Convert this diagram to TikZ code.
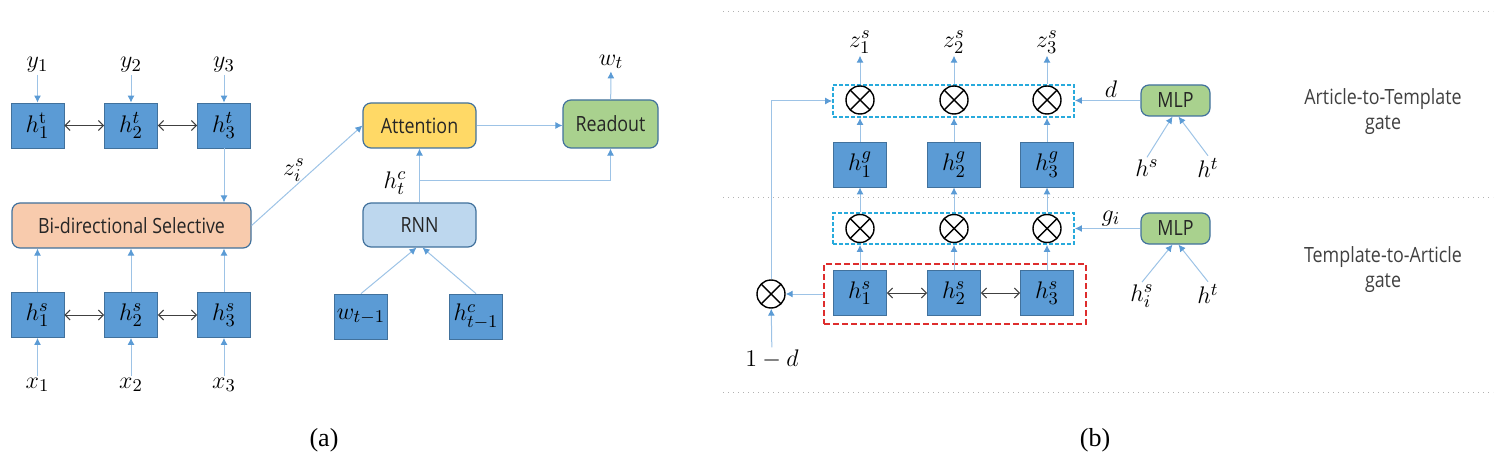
\documentclass[tikz,border=0pt]{standalone}
\usepackage{fontspec}
\newfontfamily\BoxFont[FakeStretch=0.85]{Open Sans}
\newfontfamily\CapFont{Liberation Serif}
\usetikzlibrary{arrows.meta,positioning}
\definecolor{BoxBlue}{HTML}{5B9BD5}
\definecolor{BoxEdge}{HTML}{41719C}
\definecolor{LinkBlue}{HTML}{9DC3E6}
\definecolor{TipBlue}{HTML}{5B9BD5}
\definecolor{Salmon}{HTML}{F8CBAD}
\definecolor{AttnYellow}{HTML}{FFD966}
\definecolor{LeafGreen}{HTML}{A9D18E}
\definecolor{RnnBlue}{HTML}{BDD7EE}
\definecolor{GateCyan}{RGB}{40,170,220}
\definecolor{SelRed}{RGB}{222,45,45}
\newcommand{\MathSize}{\fontsize{12.5}{14}\selectfont}
\newcommand{\TextSize}{\fontsize{10.5}{12.5}\selectfont}

\begin{document}
\begin{tikzpicture}[x=0.5pt,y=-0.5pt,>=Latex,
  hbox/.style={draw=BoxEdge,fill=BoxBlue,minimum width=26.5pt,minimum height=22.5pt,inner sep=0pt,font=\MathSize},
  rbox/.style={draw=BoxEdge,line width=0.6pt,rounded corners=4pt,inner sep=0pt,text=black!85,font=\BoxFont\TextSize},
  lbl/.style={font=\MathSize,inner sep=1pt},
  flow/.style={draw=LinkBlue,line width=0.5pt,-{Latex[length=3.5pt,width=3.5pt,color=TipBlue]}},
  pair/.style={draw=black!75,line width=0.5pt,{Straight Barb[length=2.5pt,width=5pt]}-{Straight Barb[length=2.5pt,width=5pt]}},
  gate/.style={draw=GateCyan,dash pattern=on 2pt off 1pt,line width=0.9pt,minimum width=120.5pt,minimum height=16pt,inner sep=0pt},
  prod/.style={circle,draw=black,line width=0.7pt,minimum size=14pt,inner sep=0pt,
    path picture={\draw[line width=0.7pt] (path picture bounding box.north west)--(path picture bounding box.south east)
      (path picture bounding box.north east)--(path picture bounding box.south west);}},
  sep/.style={draw=black!30,dotted,line width=0.5pt}]
\useasboundingbox (0,0) rectangle (1502,454);
% (a) selective encoder and decoder
\foreach \i/\xc in {1/37.5,2/131,3/224}{
  \node[lbl] (y\i) at (\xc,65) {$y_{\i}$};
  \node[lbl] (x\i) at (\xc,385) {$x_{\i}$};
  \node[hbox] (hs\i) at (\xc,315) {$h_{\i}^{s}$};
}
\node[hbox] (ht1) at (37.5,125.5) {$h_1^{\mathrm{t}}$};
\node[hbox] (ht2) at (131,125.5) {$h_2^t$};
\node[hbox] (ht3) at (224,125.5) {$h_3^t$};
\node[rbox,fill=Salmon,minimum width=119.5pt,minimum height=22.5pt] (bisel) at (131.5,225.5) {Bi-directional Selective};
\foreach \i in {1,2,3}{
  \draw[flow] (y\i) -- (ht\i);
  \draw[flow] (x\i) -- (hs\i);
  \draw[flow] (hs\i) -- (hs\i |- bisel.south);
}
\draw[pair] (ht1) -- (ht2);
\draw[pair] (ht2) -- (ht3);
\draw[pair] (hs1) -- (hs2);
\draw[pair] (hs2) -- (hs3);
\draw[flow] (ht3) -- (ht3 |- bisel.north);
\node[rbox,fill=AttnYellow,minimum width=56.5pt,minimum height=22.5pt] (attn) at (419.5,125.5) {Attention};
\node[rbox,fill=LeafGreen,minimum width=47.5pt,minimum height=24pt] (readout) at (610.5,124) {Readout};
\node[rbox,fill=RnnBlue,minimum width=56.5pt,minimum height=22pt] (rnn) at (419.5,225) {RNN};
\node[hbox] (wprev) at (361,316.5) {$w_{t-1}$};
\node[hbox] (hcprev) at (476,316.5) {$h_{t-1}^{c}$};
\node[lbl] (zi) at (294,170) {$z_i^s$};
\node[lbl] (hct) at (395,183) {$h_t^c$};
\node[lbl] (wt) at (611,62) {$w_t$};
\coordinate (junc) at (419.5,181);
\draw[flow] (bisel.east) -- (attn.west);
\draw[flow] (attn.east) -- (attn.east -| readout.west);
\draw[flow] (rnn) -- (attn);
\draw[flow] (junc) -| (readout.south);
\draw[flow] (readout) -- (wt);
\draw[flow] (wprev.north) -- ([xshift=-1.5pt]rnn.south);
\draw[flow] (hcprev.north) -- ([xshift=1.5pt]rnn.south);
\node[font=\CapFont\fontsize{13}{15}\selectfont] (capa) at (324,440) {(a)};
% (b) gates
\draw[sep] (723,12) -- (1493,12);
\draw[sep] (723,198) -- (1493,198);
\draw[sep] (723,392) -- (1493,392);
\node[gate] (gtop) at (953.5,101) {};
\node[gate,minimum height=15.5pt] (gbot) at (953.5,228.5) {};
\node[draw=SelRed,dash pattern=on 3pt off 1.5pt,line width=0.9pt,minimum width=131pt,minimum height=30pt,inner sep=0pt] (selbox) at (955,294) {};
\foreach \i/\xc in {1/860,2/954,3/1047}{
  \node[lbl] (z\i) at (\xc,42) {$z_{\i}^{s}$};
  \node[prod] (pa\i) at (\xc,100) {};
  \node[hbox] (hg\i) at (\xc,164.5) {$h_{\i}^{g}$};
  \node[prod] (pb\i) at (\xc,228.5) {};
  \node[hbox] (hb\i) at (\xc,293) {$h_{\i}^{s}$};
}
\foreach \i in {1,2,3}{
  \draw[flow] (pa\i |- gtop.north) -- (z\i);
  \draw[flow] (hg\i) -- (hg\i |- gtop.south);
  \draw[flow] (pb\i |- gbot.north) -- (hg\i);
  \draw[flow] (hb\i) -- (hb\i |- gbot.south);
}
\draw[pair] (hb1) -- (hb2);
\draw[pair] (hb2) -- (hb3);
\node[prod] (pl) at (771,294) {};
\node[lbl] (omd) at (772,359) {$1-d$};
\draw[flow] (selbox.west) -- (pl);
\draw[flow] (omd) -- (pl);
\draw[flow] (pl) |- (gtop.west);
\node[rbox,fill=LeafGreen,minimum width=34.5pt,minimum height=15.5pt] (mlpa) at (1175.5,100.5) {MLP};
\node[rbox,fill=LeafGreen,minimum width=34.5pt,minimum height=15.5pt] (mlpb) at (1175.5,228.5) {MLP};
\draw[flow] (mlpa) -- (mlpa -| gtop.east) node[lbl,pos=0.45,above] {$d$};
\draw[flow] (mlpb) -- (mlpb -| gbot.east) node[lbl,pos=0.45,above] {$g_i$};
\node[lbl] (hsa) at (1147,168) {$h^s$};
\node[lbl] (hta) at (1208,168) {$h^t$};
\node[lbl] (hsb) at (1142,296) {$h_i^s$};
\node[lbl] (htb) at (1208,294) {$h^t$};
\draw[flow] (hsa.north) -- ([xshift=-1.5pt]mlpa.south);
\draw[flow] (hta.north) -- ([xshift=1.5pt]mlpa.south);
\draw[flow] (hsb.north) -- ([xshift=-1.5pt]mlpb.south);
\draw[flow] (htb.north) -- ([xshift=1.5pt]mlpb.south);
\node[align=center,text=black!75,font=\BoxFont\TextSize] (atgate) at (1383,112) {Article-to-Template\\gate};
\node[align=center,text=black!75,font=\BoxFont\TextSize] (tagate) at (1383,270) {Template-to-Article\\gate};
\node[font=\CapFont\fontsize{13}{15}\selectfont] (capb) at (1095,440) {(b)};
\end{tikzpicture}
\end{document}
